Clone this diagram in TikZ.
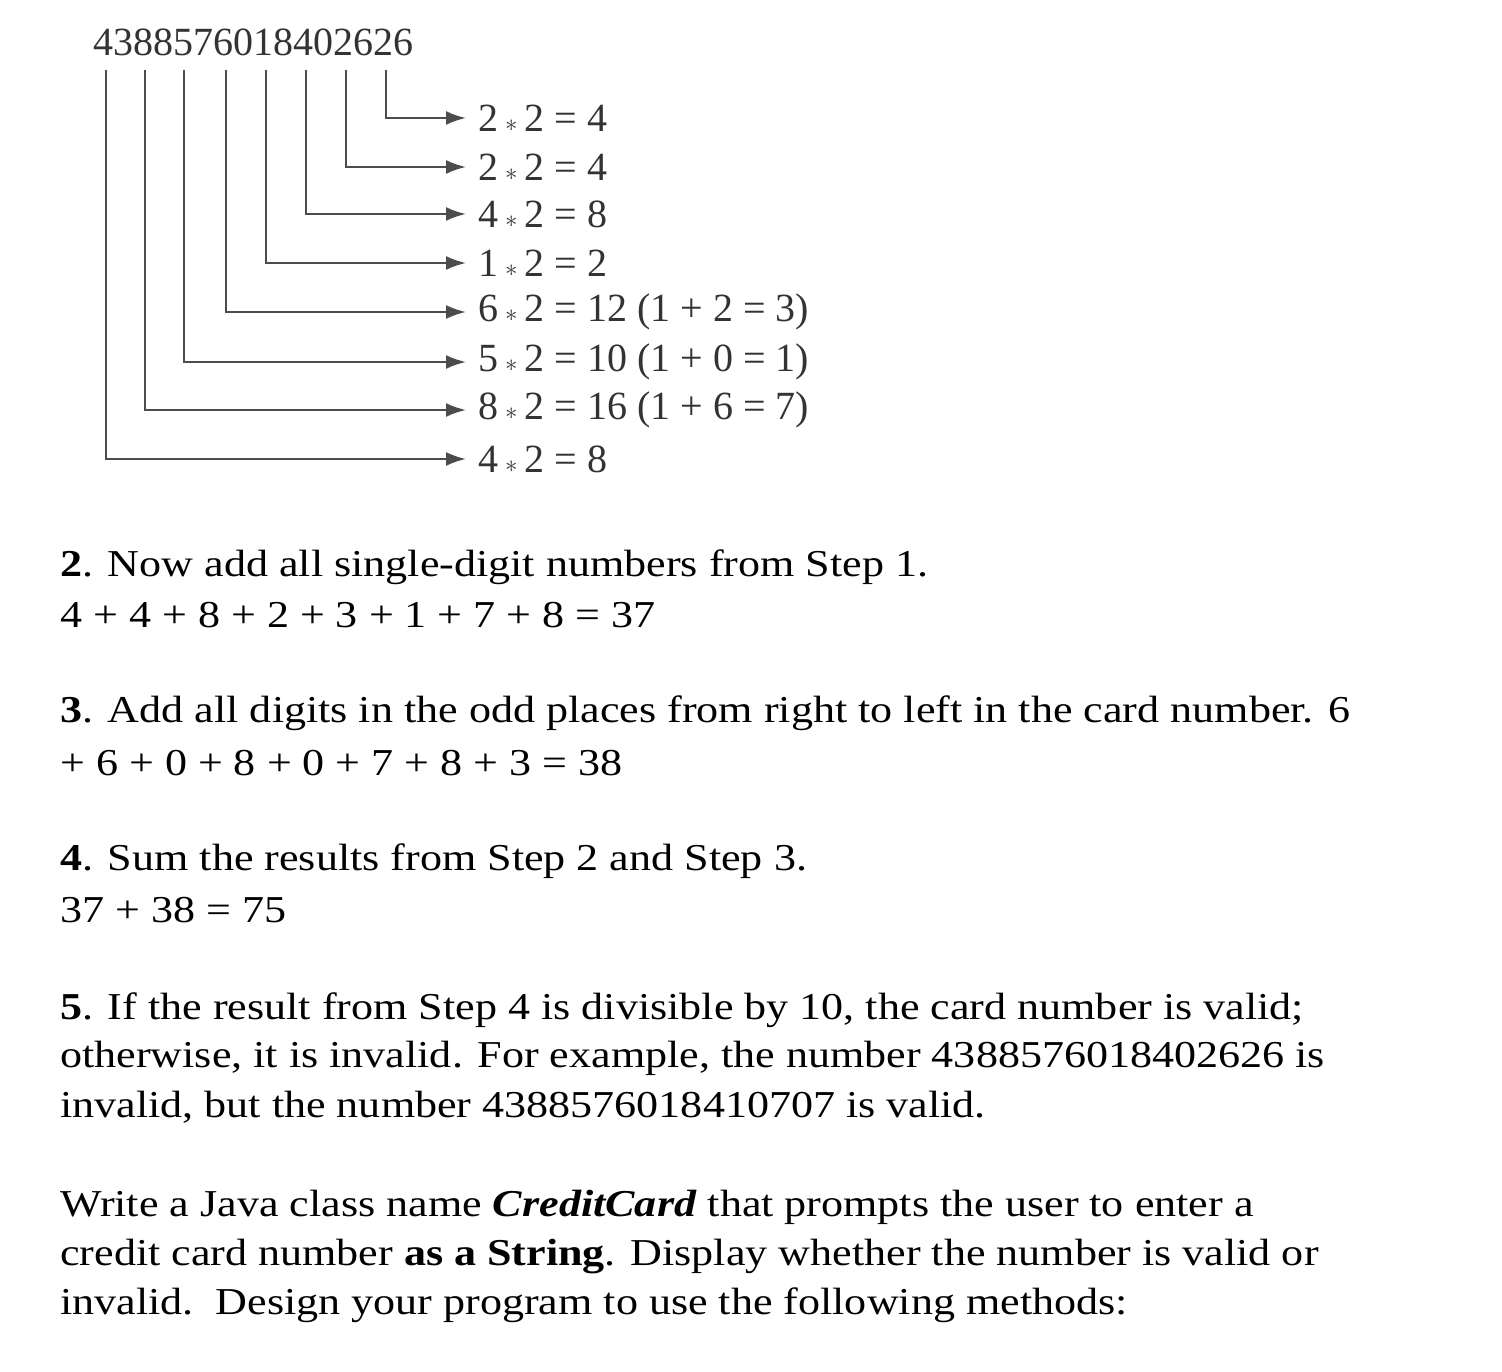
\documentclass[tikz,border=0pt]{standalone}
\usepackage{fontspec}
\setmainfont{Liberation Serif}
\usetikzlibrary{arrows.meta}
\newcommand{\wide}[1]{\scalebox{1.16}[1]{#1}}
\newcommand{\st}{\hspace{7pt}$*$\hspace{7pt}}
\begin{document}
\begin{tikzpicture}[x=1pt,y=-1pt,
  conn/.style={draw=black!70,line width=2.2pt,-{Latex[length=20pt,width=14pt]}},
  expr/.style={anchor=west,inner sep=0pt,font=\fontsize{40}{40}\selectfont,text=black!80},
  body/.style={anchor=west,inner sep=0pt,font=\fontsize{38}{38}\selectfont}]
\useasboundingbox (0,0) rectangle (1502,1372);
\node[anchor=west,inner sep=0pt,font=\fontsize{40}{40}\selectfont,text=black!80] (num) at (93,42) {4388576018402626};
\foreach \x/\y/\t [count=\i] in {386/118/{2\st2 = 4},346/167/{2\st2 = 4},306/214/{4\st2 = 8},266/263/{1\st2 = 2},226/312/{6\st2 = 12 (1 + 2 = 3)},184/362/{5\st2 = 10 (1 + 0 = 1)},145/410/{8\st2 = 16 (1 + 6 = 7)},106/459/{4\st2 = 8}}{
  \coordinate (s\i) at (\x,70);
  \coordinate (e\i) at (466,\y);
  \node[expr] (t\i) at (478,\y) {\t};
  \draw[conn] (s\i) |- (e\i);
}
\node[body] (a1) at (60,567) {\wide{\textbf{2}. Now add all single-digit numbers from Step 1.}};
\node[body] (a2) at (60,615) {\wide{4 + 4 + 8 + 2 + 3 + 1 + 7 + 8 = 37}};
\node[body] (b1) at (60,713) {\wide{\textbf{3}. Add all digits in the odd places from right to left in the card number. 6}};
\node[body] (b2) at (60,763) {\wide{+ 6 + 0 + 8 + 0 + 7 + 8 + 3 = 38}};
\node[body] (c1) at (60,861) {\wide{\textbf{4}. Sum the results from Step 2 and Step 3.}};
\node[body] (c2) at (60,910) {\wide{37 + 38 = 75}};
\node[body] (d1) at (60,1010) {\wide{\textbf{5}. If the result from Step 4 is divisible by 10, the card number is valid;}};
\node[body] (d2) at (60,1058) {\wide{otherwise, it is invalid. For example, the number 4388576018402626 is}};
\node[body] (d3) at (60,1107) {\wide{invalid, but the number 4388576018410707 is valid.}};
\node[body] (e1) at (60,1207) {\wide{Write a Java class name \textbf{\textit{CreditCard}} that prompts the user to enter a}};
\node[body] (e2) at (60,1256) {\wide{credit card number \textbf{as a String}. Display whether the number is valid or}};
\node[body] (e3) at (60,1305) {\wide{invalid.\ \ Design your program to use the following methods:}};
\end{tikzpicture}
\end{document}
